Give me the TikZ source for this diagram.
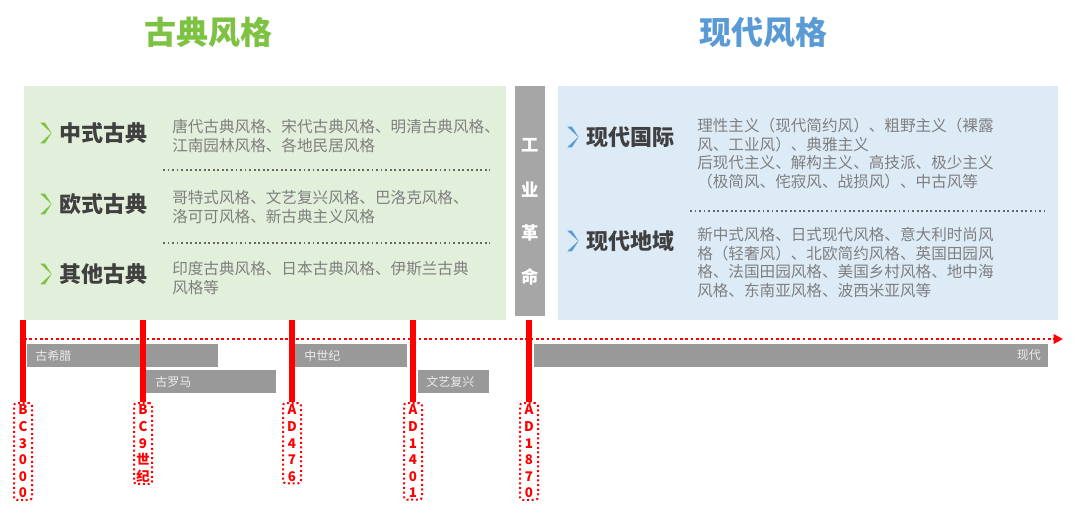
\documentclass[tikz,border=0pt]{standalone}
\usepackage{fontspec}
\setmainfont{Noto Sans CJK SC}
\usetikzlibrary{positioning,arrows.meta}
\definecolor{titgreen}{HTML}{7DC242}
\definecolor{titblue}{HTML}{5B9BD5}
\definecolor{pgreen}{HTML}{E2EFDA}
\definecolor{pblue}{HTML}{DDEBF7}
\definecolor{headgray}{HTML}{404040}
\definecolor{txtgray}{HTML}{7F7F7F}
\definecolor{bargray}{HTML}{999999}
\definecolor{tickred}{HTML}{FF0000}
\tikzset{
  title/.style={font=\fontsize{24}{28}\selectfont\bfseries},
  head/.style={font=\fontsize{16.5}{20}\selectfont\bfseries,text=headgray,anchor=west,inner sep=0pt},
  desc/.style={font=\fontsize{11.7}{14}\selectfont,text=txtgray,anchor=north west,align=left,inner sep=0pt},
  chev/.style={minimum width=10pt,minimum height=15pt,inner sep=0pt,anchor=west},
  sep/.style={dotted,line width=1.4pt,headgray!80},
  era/.style={fill=bargray,draw=none},
  eratxt/.style={font=\fontsize{9}{10}\selectfont,text=white!92!black,inner sep=0pt},
  tick/.style={tickred,line width=3.8pt},
  datebox/.style={draw=tickred,dotted,line width=1.5pt,rounded corners=2pt,minimum width=13.5pt,
    font=\fontsize{10}{12.4}\selectfont\bfseries,text=tickred,align=center,inner sep=1.5pt,anchor=north},
}
% chevron mark drawn as a shape
\newcommand{\chevmark}[2]{%
  \fill[#2] ([xshift=1pt]#1.north west) -- ([xshift=4.5pt]#1.north west) -- ([xshift=-1pt]#1.east)
    -- ([xshift=4.5pt]#1.south west) -- ([xshift=1pt]#1.south west) -- ([xshift=4pt]#1.center) -- cycle;}
\begin{document}
\begin{tikzpicture}[x=0.75pt,y=0.75pt,yscale=-1]
\useasboundingbox (0,0) rectangle (1080,515);

% titles
\node[title,text=titgreen] (tclassic) at (208,32) {古典风格};
\node[title,text=titblue] (tmodern) at (763,32) {现代风格};

% panels
\fill[pgreen] (24,86) rectangle (506,320);
\fill[pblue] (558,86) rectangle (1058,320);
\fill[black!35] (515,86) rectangle (545,316);
\foreach \ch/\yy in {工/145,业/190,革/233,命/277}
  \node[font=\fontsize{13}{14}\selectfont\bfseries,text=white] at (530,\yy) {\ch};

% classic rows
\node[chev] (c1) at (39,133) {}; \chevmark{c1}{titgreen}
\node[head,right=5pt of c1] (h1) {中式古典};
\node[desc] (d1) at (172,119) {唐代古典风格、宋代古典风格、明清古典风格、\\江南园林风格、各地民居风格};
\draw[sep] (163,170) -- (490,170);
\node[chev] (c2) at (39,204) {}; \chevmark{c2}{titgreen}
\node[head,right=5pt of c2] (h2) {欧式古典};
\node[desc] (d2) at (172,190) {哥特式风格、文艺复兴风格、巴洛克风格、\\洛可可风格、新古典主义风格};
\draw[sep] (163,243) -- (490,243);
\node[chev] (c3) at (39,274) {}; \chevmark{c3}{titgreen}
\node[head,right=5pt of c3] (h3) {其他古典};
\node[desc] (d3) at (172,261) {印度古典风格、日本古典风格、伊斯兰古典\\风格等};

% modern rows
\node[chev] (c4) at (566,137) {}; \chevmark{c4}{titblue}
\node[head,right=5pt of c4] (h4) {现代国际};
\node[desc] (d4) at (697,118) {理性主义（现代简约风）、粗野主义（裸露\\风、工业风）、典雅主义\\后现代主义、解构主义、高技派、极少主义\\（极简风、侘寂风、战损风）、中古风等};
\draw[sep] (690,211) -- (1045,211);
\node[chev] (c5) at (566,241) {}; \chevmark{c5}{titblue}
\node[head,right=5pt of c5] (h5) {现代地域};
\node[desc] (d5) at (697,227) {新中式风格、日式现代风格、意大利时尚风\\格（轻奢风）、北欧简约风格、英国田园风\\格、法国田园风格、美国乡村风格、地中海\\风格、东南亚风格、波西米亚风等};

% timeline arrow
\coordinate (tl0) at (24,339);
\coordinate (tl1) at (1063,339);
\draw[tickred,dotted,line width=2pt,-{Triangle[width=7pt,length=7pt]}] (tl0) -- (tl1);

% eras
\fill[era] (27,344) rectangle (218,367);
\node[eratxt,anchor=west] at (35,355.5) {古希腊};
\fill[era] (146,370) rectangle (276,393);
\node[eratxt,anchor=west] at (155,381.5) {古罗马};
\fill[era] (295,344) rectangle (407,367);
\node[eratxt,anchor=west] at (304,355.5) {中世纪};
\fill[era] (418,370) rectangle (489,393);
\node[eratxt,anchor=west] at (426,381.5) {文艺复兴};
\fill[era] (534,344) rectangle (1048,367);
\node[eratxt,anchor=east] at (1041,355.5) {现代};

% date ticks
\foreach \xx/\lab/\nm in {23/{B\\C\\3\\0\\0\\0}/b1, 143/{B\\C\\9\\世\\纪}/b2, 292/{A\\D\\4\\7\\6}/b3, 413/{A\\D\\1\\4\\0\\1}/b4, 529/{A\\D\\1\\8\\7\\0}/b5}{
  \node[datebox] (\nm) at (\xx,402) {\lab};
  \draw[tick] (\xx,320) -- (\nm.north);
}

\end{tikzpicture}
\end{document}
